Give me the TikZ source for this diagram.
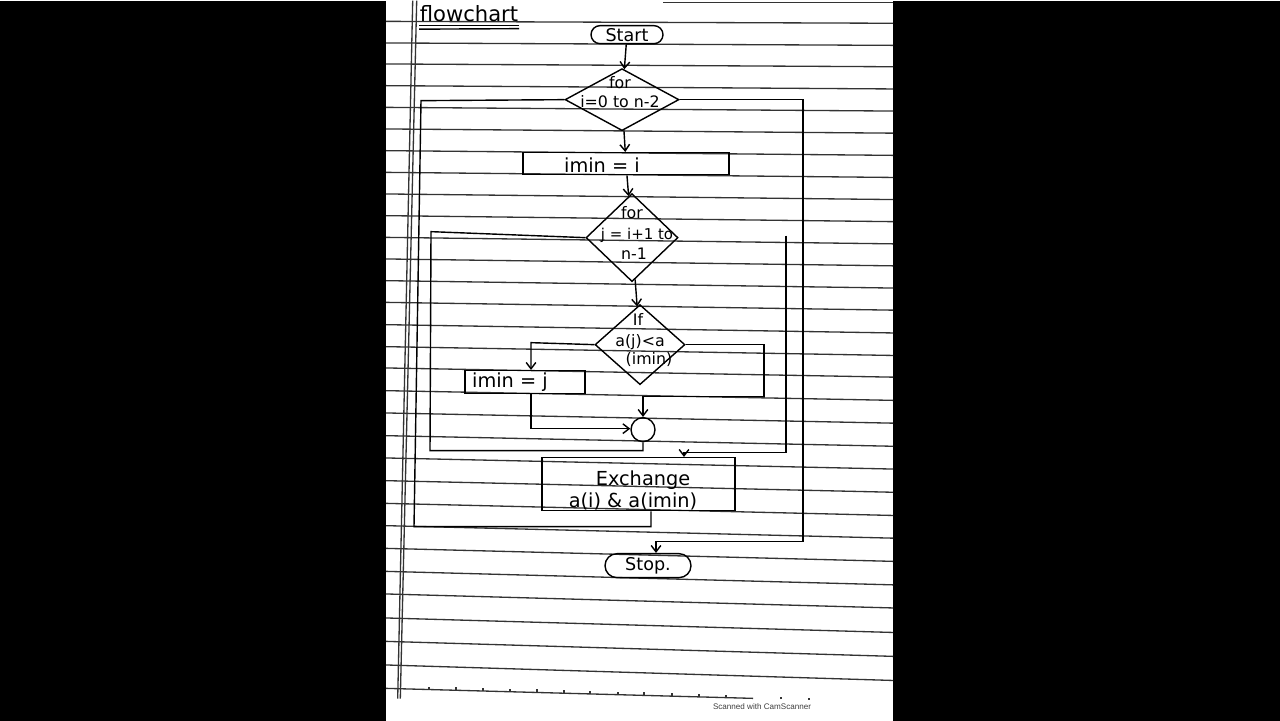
\documentclass[tikz,border=0pt]{standalone}
\usepackage{fontspec}
\setmainfont{DejaVu Sans}
\newfontfamily\scanfont{Liberation Sans}
\usetikzlibrary{shapes.geometric,shapes.misc,arrows.meta}

\def\px{0.02cm}

\begin{document}
\begin{tikzpicture}[x=\px, y=-\px,
    ink/.style={black, line width=0.8pt},
    ruling/.style={black!80, line width=0.75pt},
    flow/.style={ink, -{Straight Barb[length=3.6pt,width=5.5pt]}},
    decision/.style={ink, draw, diamond, inner sep=0pt},
    process/.style={ink, draw, rectangle, inner sep=0pt},
    terminal/.style={ink, draw, rounded rectangle, inner sep=0pt, font=\fontsize{10}{12}\selectfont},
    joint/.style={ink, draw, circle, inner sep=0pt, minimum size=0.48cm},
    txt/.style={anchor=base, inner sep=0pt, font=\fontsize{9}{11}\selectfont},
    boxtxt/.style={anchor=base, inner sep=0pt, font=\fontsize{11}{13}\selectfont}]
      % scanned page
      \fill[black] (0,0) rectangle (1280,720);
      \fill[white] (386,0) rectangle (893,720);
      % ruled lines
      \draw[ruling] (663,1.7) -- (893,1.7);
      \draw[ruling] (386,20.7) -- (893,22.6);
      \draw[ruling] (386,42.3) -- (893,44.7);
      \draw[ruling] (386,63.3) -- (893,66.1);
      \draw[ruling] (386,85.0) -- (893,88.3);
      \draw[ruling] (386,106.7) -- (893,110.4);
      \draw[ruling] (386,128.3) -- (893,132.5);
      \draw[ruling] (386,150.0) -- (893,154.7);
      \draw[ruling] (386,171.7) -- (893,176.8);
      \draw[ruling] (386,193.3) -- (893,198.9);
      \draw[ruling] (386,215.0) -- (893,221.0);
      \draw[ruling] (386,236.7) -- (893,243.2);
      \draw[ruling] (386,258.3) -- (893,265.2);
      \draw[ruling] (386,280.0) -- (893,287.4);
      \draw[ruling] (386,301.7) -- (893,309.5);
      \draw[ruling] (386,324.0) -- (893,332.3);
      \draw[ruling] (386,346.0) -- (893,354.8);
      \draw[ruling] (386,367.3) -- (893,376.5);
      \draw[ruling] (386,390.0) -- (893,399.7);
      \draw[ruling] (386,412.3) -- (893,422.5);
      \draw[ruling] (386,435.0) -- (893,445.6);
      \draw[ruling] (386,457.3) -- (893,468.4);
      \draw[ruling] (386,480.0) -- (893,491.6);
      \draw[ruling] (386,502.7) -- (893,514.8);
      \draw[ruling] (386,525.0) -- (893,537.5);
      \draw[ruling] (386,547.7) -- (893,560.7);
      \draw[ruling] (386,570.7) -- (893,584.2);
      \draw[ruling] (386,593.3) -- (893,607.3);
      \draw[ruling] (386,617.3) -- (893,631.8);
      \draw[ruling] (386,640.7) -- (893,655.7);
      \draw[ruling] (386,664.3) -- (893,679.8);
      \draw[ruling] (386,687.7) -- (753,697.7);
      \draw[ruling] (429,688.9) -- ++(0,-3) (456,689.6) -- ++(0,-3) (483,690.3) -- ++(0,-3)
        (510,691.1) -- ++(0,-3) (537,691.8) -- ++(0,-3) (564,692.5) -- ++(0,-3)
        (590,693.2) -- ++(0,-3) (618,694.0) -- ++(0,-3) (644,694.7) -- ++(0,-3)
        (672,695.5) -- ++(0,-3) (699,696.2) -- ++(0,-3) (726,696.9) -- ++(0,-3)
        (781,698.4) -- ++(0,-2) (809,699.1) -- ++(0,-2);
      % margin
      \draw[ruling] (412.7,0) -- (397.7,698);
      \draw[ruling] (416.7,0) -- (400.3,698);
      \node[anchor=base, inner sep=0pt, text=black!75, font=\scanfont\fontsize{4.6}{5}\selectfont] (scan) at (762,708.5) {Scanned with CamScanner};

      % heading
      \node[anchor=base, inner sep=0pt, font=\fontsize{12}{14}\selectfont] (title) at (469,21) {flowchart};
      \draw[ink] (419,25) -- (519,25);
      \draw[ink] (419,28.5) -- (519,28);

      % shapes
      \node[terminal, minimum width=1.44cm, minimum height=0.36cm] (start) at (627,34) {Start};
      \node[decision, minimum width=2.28cm, minimum height=1.24cm] (outer) at (622,99) {};
      \node[process, minimum width=4.12cm, minimum height=0.44cm] (setmin) at (626,163) {};
      \node[decision, minimum width=1.84cm, minimum height=1.76cm] (inner) at (632,237) {};
      \node[decision, minimum width=1.8cm, minimum height=1.6cm] (test) at (640,344) {};
      \node[process, minimum width=2.4cm, minimum height=0.46cm] (newmin) at (525,381.5) {};
      \node[joint] (join) at (643,429) {};
      \node[process, minimum width=3.86cm, minimum height=1.06cm] (swap) at (638.5,483.5) {};
      \node[terminal, minimum width=1.72cm, minimum height=0.48cm] (stop) at (648,565) {Stop.};

      % texts
      \node[txt] (outer1) at (620,88) {for};
      \node[txt] (outer2) at (620,107) {i=0 to n-2};
      \node[boxtxt] (setmintxt) at (602,172) {imin = i};
      \node[txt] (inner1) at (632,218) {for};
      \node[txt, font=\fontsize{8.5}{10}\selectfont] (inner2) at (637,239) {j = i+1 to};
      \node[txt] (inner3) at (634,259) {n-1};
      \node[txt] (test1) at (638,325) {If};
      \node[txt] (test2) at (640,346) {a(j)<a};
      \node[txt] (test3) at (649,364) {(imin)};
      \node[boxtxt] (newmintxt) at (510,387) {imin = j};
      \node[boxtxt] (swap1) at (643,485) {Exchange};
      \node[boxtxt] (swap2) at (633,506.5) {a(i) \& a(imin)};

      % points on the loops
      \coordinate (olt) at (421,100);
      \coordinate (olb) at (414,526);
      \coordinate (eo) at (651,526);
      \coordinate (ox) at (803,541);
      \coordinate (sin) at (656,541);
      \coordinate (ilt) at (431,231);
      \coordinate (ilb) at (430,450);
      \coordinate (et) at (786,235);
      \coordinate (ex) at (786,452);
      \coordinate (ein) at (684,452);
      \coordinate (jl) at (531,342);
      \coordinate (jb) at (531,428);
      \coordinate (jr) at (764,396);

      % connectors
      \draw[flow] (start) -- (outer);
      \draw[flow] (outer) -- (setmin);
      \draw[flow] (setmin) -- (inner);
      \draw[flow] (inner) -- (test);
      \draw[flow] (test.west) -- (jl) -- (jl |- newmin.north);
      \draw[flow] (jl |- newmin.south) -- (jb) -- (jb -| join.west);
      \draw[flow] (test.east) -| (jr) -| (join.north);
      \draw[ink] (join.south) |- (ilb) -- (ilt) -- (inner.west);
      \draw[flow] (et) -- (ex) -- (ein) -- (ein |- swap.north);
      \draw[ink] (eo |- swap.south) -- (eo) -- (olb) -- (olt) -- (outer.west);
      \draw[flow] (outer.east) -| (ox) -- (sin) -- (sin |- stop.north);
\end{tikzpicture}
\end{document}
